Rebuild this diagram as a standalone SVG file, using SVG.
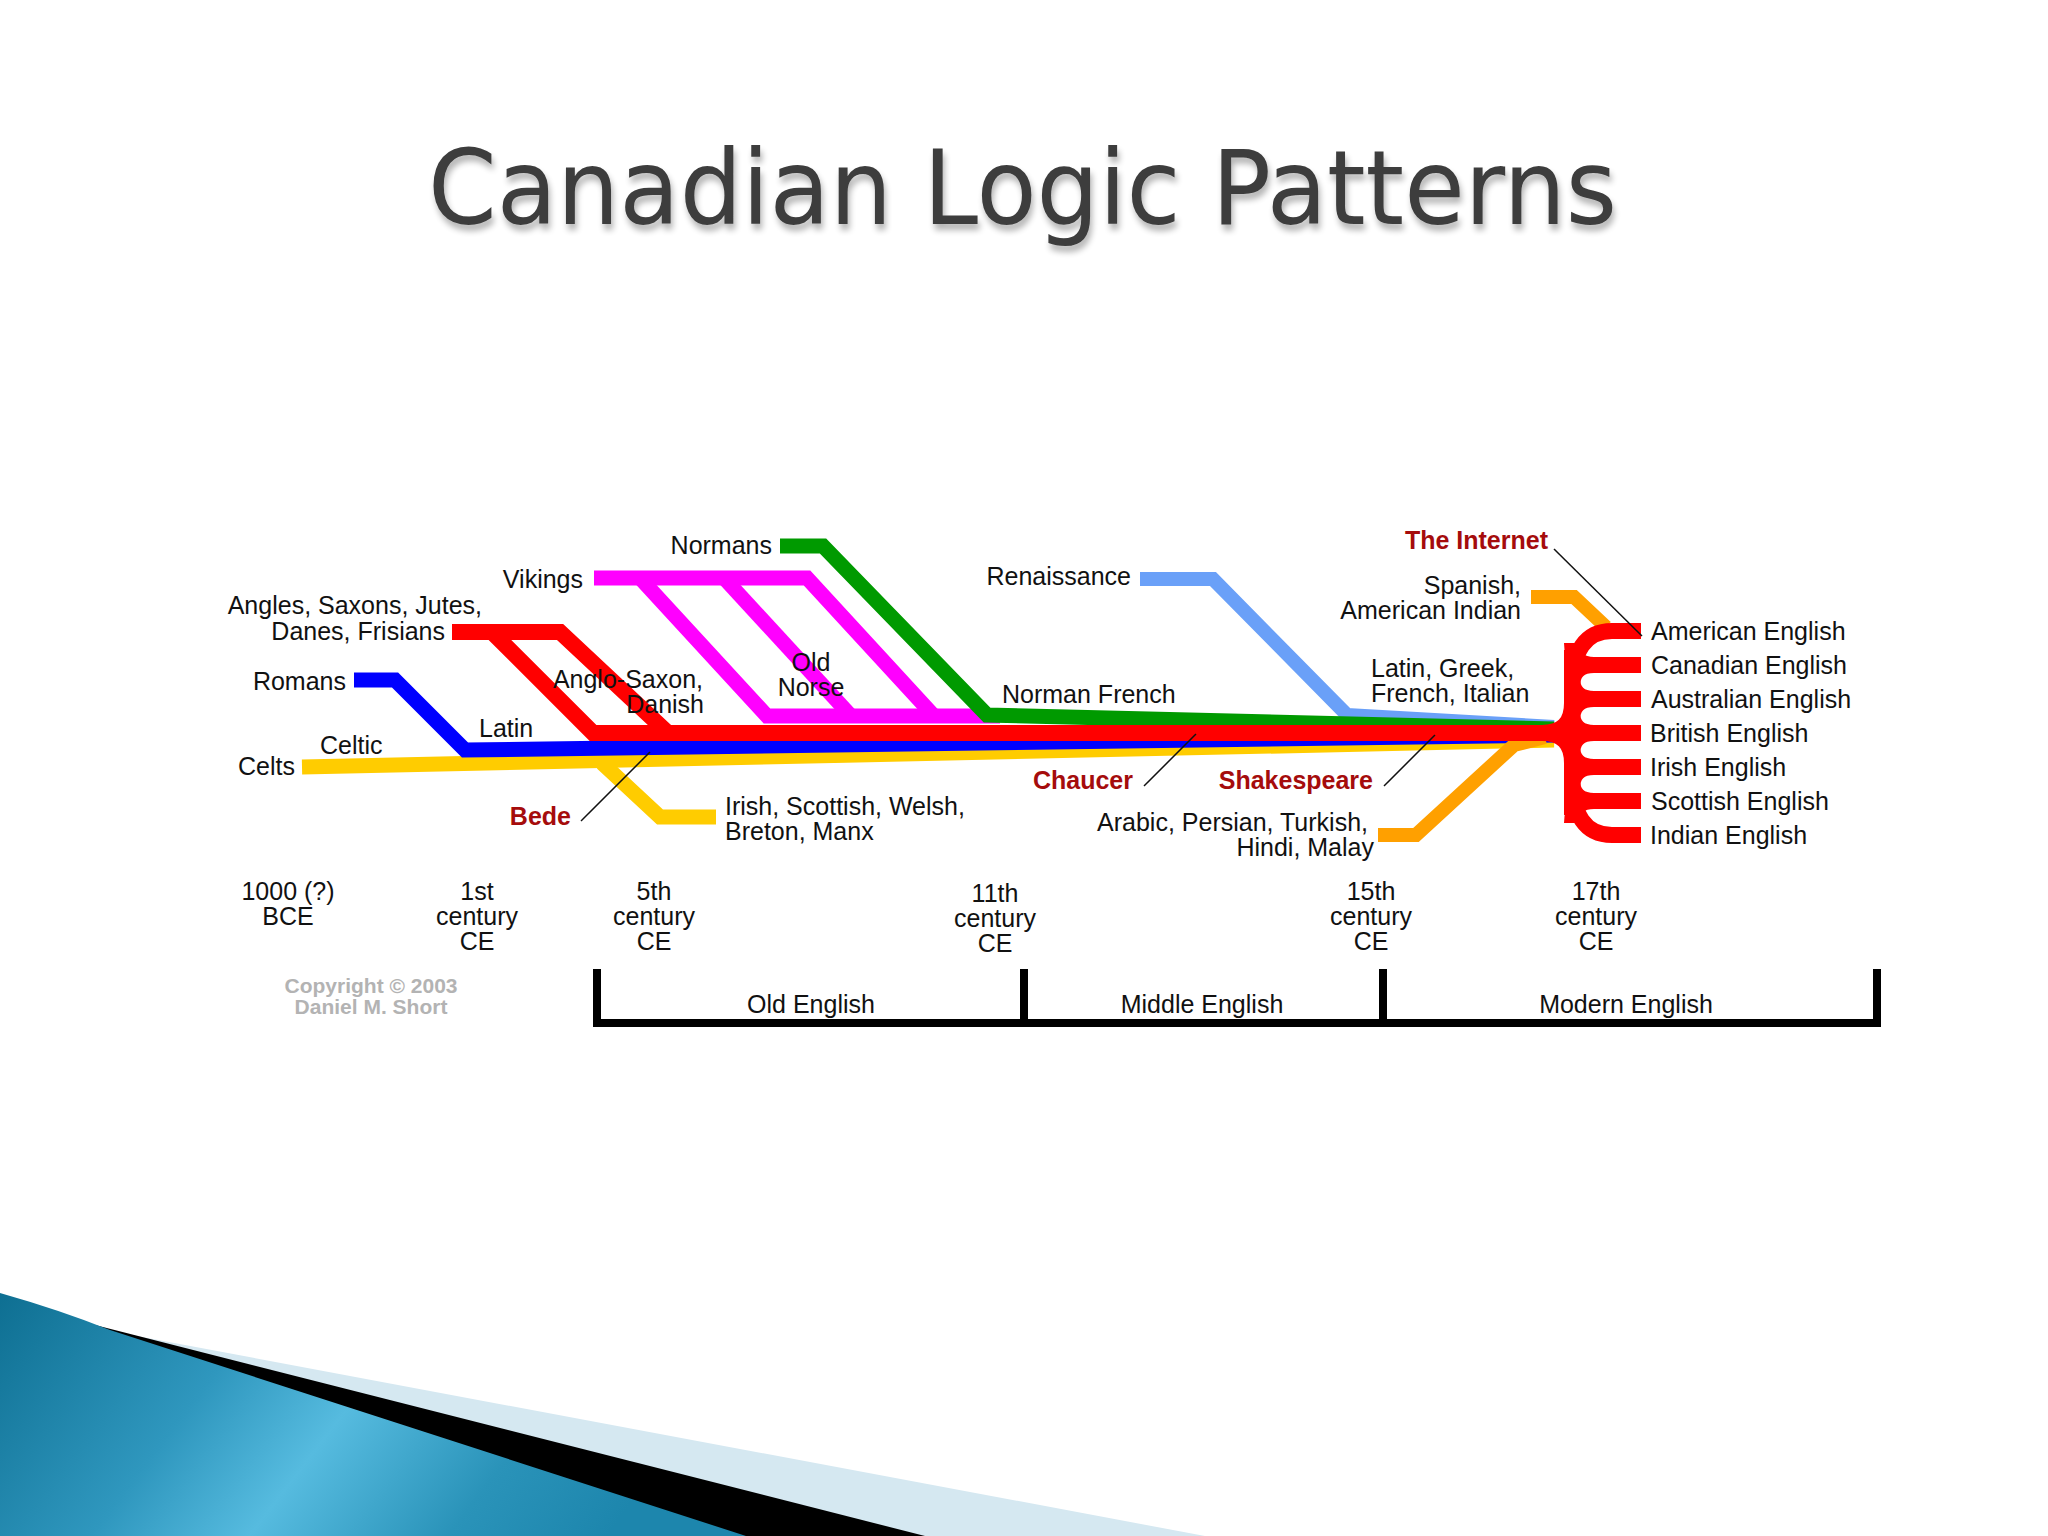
<svg xmlns="http://www.w3.org/2000/svg" width="2048" height="1536" viewBox="0 0 2048 1536">
<defs>
<linearGradient id="teal" x1="0" y1="0" x2="1" y2="0.25">
<stop offset="0" stop-color="#0e6f92"/>
<stop offset="0.35" stop-color="#2f97be"/>
<stop offset="0.55" stop-color="#56bbdf"/>
<stop offset="0.8" stop-color="#2a93b9"/>
<stop offset="1" stop-color="#1d86ad"/>
</linearGradient>
<filter id="shadow" x="-5%" y="-30%" width="110%" height="170%">
<feGaussianBlur in="SourceAlpha" stdDeviation="3"/>
<feOffset dx="2" dy="6" result="o"/>
<feComponentTransfer in="o" result="s"><feFuncA type="linear" slope="0.3"/></feComponentTransfer>
<feMerge><feMergeNode in="s"/><feMergeNode in="SourceGraphic"/></feMerge>
</filter>
</defs>
<style>
.ln{fill:none;stroke-width:15;stroke-linejoin:miter;stroke-linecap:butt}
.yl{stroke:#ffcc00}
.bl{stroke:#0000ff}
.rd{stroke:#ff0000;stroke-width:16}
.gr{stroke:#009a00}
.mg{stroke:#ff00ff}
.lb{stroke:#6aa0f8;stroke-width:14}
.or{stroke:#ffa000;stroke-width:14}
.t{font-family:"Liberation Sans",Arial,sans-serif;font-size:25px;fill:#111}
.b{font-weight:bold;fill:#a50c0c}
.e{text-anchor:end}
.m{text-anchor:middle}
.ptr{stroke:#111;stroke-width:1.5;fill:none}
.cp{font-family:"Liberation Sans",Arial,sans-serif;font-size:21px;font-weight:bold;fill:#b3b3b3;text-anchor:middle}
.br{fill:none;stroke:#000;stroke-width:8;stroke-linecap:square}
</style>
<rect width="2048" height="1536" fill="#ffffff"/>

<g id="swoosh">
<polygon points="110,1331 1205,1536 0,1536" fill="#d5e8f1"/>
<polygon points="95,1325 925,1536 0,1536" fill="#000"/>
<path d="M0,1293 Q60,1310 110,1330 L746,1536 L0,1536 Z" fill="url(#teal)"/>
</g>

<g id="title">
<text x="428" y="224" textLength="1189" lengthAdjust="spacingAndGlyphs" font-family="'DejaVu Sans','Open Sans',sans-serif" font-size="104" fill="#3d3d3d" filter="url(#shadow)">Canadian Logic Patterns</text>
</g>

<g id="connectors">
<polyline class="ln yl" points="302,767 1554,740"/>
<polyline class="ln yl" points="602,763 660,817 716,817"/>
<polyline class="ln bl" points="354,680 395,680 465,750 1554,735"/>
<polyline class="ln lb" points="1140,579 1213,579 1347,715 1554,727"/>
<polyline class="ln mg" points="594,578 807,578 934,716"/>
<polyline class="ln mg" points="640,578 767,716 1000,716"/>
<polyline class="ln mg" points="724,578 851,716"/>
<polyline class="ln or" points="1531,597 1574,597 1606,627"/>
<polyline class="ln or" points="1378,835 1416,835 1514,745 1545,737"/>
<polyline class="ln gr" points="780,546 823,546 987,715 1554,729"/>
<polyline class="ln rd" points="452,632 560,632 668,733"/>
<polyline class="ln rd" points="492,632 593,733 1572,733"/>
<g class="ln rd">
<path d="M1572,650 V815"/>
<path d="M1572,690 Q1572,631 1612,631 H1641"/>
<path d="M1572,776 Q1572,835 1612,835 H1641"/>
<path d="M1572,665 H1641 M1572,643 Q1572,665 1594,665 M1572,687 Q1572,665 1594,665"/>
<path d="M1572,699 H1641 M1572,677 Q1572,699 1594,699 M1572,721 Q1572,699 1594,699"/>
<path d="M1572,733 H1641 M1572,711 Q1572,733 1594,733 M1572,755 Q1572,733 1594,733"/>
<path d="M1572,767 H1641 M1572,745 Q1572,767 1594,767 M1572,789 Q1572,767 1594,767"/>
<path d="M1572,801 H1641 M1572,779 Q1572,801 1594,801 M1572,823 Q1572,801 1594,801"/>
<path d="M1572,703 Q1572,733 1542,733 M1572,763 Q1572,733 1542,733"/>
</g>
<path class="ptr" d="M581,821 L650,752"/>
<path class="ptr" d="M1144,786 L1196,734"/>
<path class="ptr" d="M1384,786 L1435,735"/>
<path class="ptr" d="M1554,549 L1642,636"/>
</g>

<g id="labels">
<text class="t e" x="772" y="554">Normans</text>
<text class="t e" x="583" y="588">Vikings</text>
<text class="t e" x="482" y="614">Angles, Saxons, Jutes,</text>
<text class="t e" x="445" y="640">Danes, Frisians</text>
<text class="t e" x="346" y="690">Romans</text>
<text class="t" x="320" y="754">Celtic</text>
<text class="t e" x="295" y="775">Celts</text>
<text class="t" x="479" y="737">Latin</text>
<text class="t e" x="703" y="688">Anglo-Saxon,</text>
<text class="t e" x="704" y="713">Danish</text>
<text class="t m" x="811" y="671">Old</text>
<text class="t m" x="811" y="696">Norse</text>
<text class="t" x="725" y="815">Irish, Scottish, Welsh,</text>
<text class="t" x="725" y="840">Breton, Manx</text>
<text class="t b e" x="571" y="825">Bede</text>
<text class="t e" x="1131" y="585">Renaissance</text>
<text class="t" x="1002" y="703">Norman French</text>
<text class="t b e" x="1133" y="789">Chaucer</text>
<text class="t b e" x="1373" y="789">Shakespeare</text>
<text class="t e" x="1368" y="831">Arabic, Persian, Turkish,</text>
<text class="t e" x="1374" y="856">Hindi, Malay</text>
<text class="t b e" x="1548" y="549">The Internet</text>
<text class="t e" x="1521" y="594">Spanish,</text>
<text class="t e" x="1521" y="619">American Indian</text>
<text class="t" x="1371" y="677">Latin, Greek,</text>
<text class="t" x="1371" y="702">French, Italian</text>
</g>

<g id="varieties">
<text class="t" x="1651" y="640">American English</text>
<text class="t" x="1651" y="674">Canadian English</text>
<text class="t" x="1651" y="708">Australian English</text>
<text class="t" x="1650" y="742">British English</text>
<text class="t" x="1650" y="776">Irish English</text>
<text class="t" x="1651" y="810">Scottish English</text>
<text class="t" x="1650" y="844">Indian English</text>
</g>

<g id="timeline">
<text class="t m" x="288" y="900">1000 (?)</text>
<text class="t m" x="288" y="925">BCE</text>
<text class="t m" x="477" y="900">1st</text>
<text class="t m" x="477" y="925">century</text>
<text class="t m" x="477" y="950">CE</text>
<text class="t m" x="654" y="900">5th</text>
<text class="t m" x="654" y="925">century</text>
<text class="t m" x="654" y="950">CE</text>
<text class="t m" x="995" y="902">11th</text>
<text class="t m" x="995" y="927">century</text>
<text class="t m" x="995" y="952">CE</text>
<text class="t m" x="1371" y="900">15th</text>
<text class="t m" x="1371" y="925">century</text>
<text class="t m" x="1371" y="950">CE</text>
<text class="t m" x="1596" y="900">17th</text>
<text class="t m" x="1596" y="925">century</text>
<text class="t m" x="1596" y="950">CE</text>
<text class="cp" x="371" y="993">Copyright © 2003</text>
<text class="cp" x="371" y="1014">Daniel M. Short</text>
</g>

<g id="eras">
<path class="br" d="M597,973 V1023 H1877 V973"/>
<path class="br" d="M1024,973 V1023"/>
<path class="br" d="M1383,973 V1023"/>
<text class="t m" x="811" y="1013">Old English</text>
<text class="t m" x="1202" y="1013">Middle English</text>
<text class="t m" x="1626" y="1013">Modern English</text>
</g>
</svg>
